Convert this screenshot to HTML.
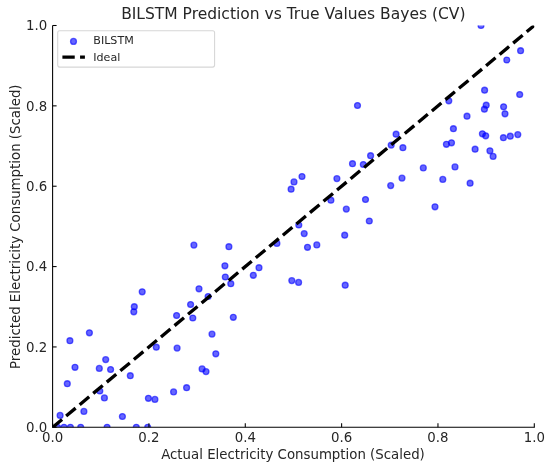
<!DOCTYPE html>
<html><head><meta charset="utf-8"><title>BILSTM Prediction vs True Values Bayes (CV)</title>
<style>
html,body{margin:0;padding:0;background:#fff;}
body{width:550px;height:466px;overflow:hidden;}
svg{display:block;}
text{font-family:"DejaVu Sans", "Liberation Sans", sans-serif;fill:#262626;}
</style></head><body>
<svg width="550" height="466" viewBox="0 0 550 466">
<defs><clipPath id="ax"><rect x="52.6" y="25.5" width="481.70" height="401.80"/></clipPath></defs>
<rect width="550" height="466" fill="#fff"/>

<g clip-path="url(#ax)" fill="rgba(0,0,255,0.6)" stroke="rgba(0,0,255,0.6)" stroke-width="1.3">
<circle cx="57.5" cy="427.3" r="2.95"/>
<circle cx="64.0" cy="427.3" r="2.95"/>
<circle cx="70.4" cy="427.3" r="2.95"/>
<circle cx="80.7" cy="427.3" r="2.95"/>
<circle cx="107.1" cy="427.3" r="2.95"/>
<circle cx="136.3" cy="427.3" r="2.95"/>
<circle cx="147.7" cy="427.3" r="2.95"/>
<circle cx="481.0" cy="25.5" r="2.95"/>
<circle cx="105.7" cy="359.6" r="2.95"/>
<circle cx="75.0" cy="367.3" r="2.95"/>
<circle cx="99.3" cy="368.4" r="2.95"/>
<circle cx="110.6" cy="369.5" r="2.95"/>
<circle cx="130.3" cy="375.7" r="2.95"/>
<circle cx="67.3" cy="383.7" r="2.95"/>
<circle cx="99.8" cy="391.0" r="2.95"/>
<circle cx="104.4" cy="397.9" r="2.95"/>
<circle cx="148.4" cy="398.3" r="2.95"/>
<circle cx="83.9" cy="411.4" r="2.95"/>
<circle cx="60.1" cy="415.4" r="2.95"/>
<circle cx="122.4" cy="416.5" r="2.95"/>
<circle cx="156.3" cy="347.2" r="2.95"/>
<circle cx="177.1" cy="348.1" r="2.95"/>
<circle cx="215.8" cy="353.8" r="2.95"/>
<circle cx="202.1" cy="368.9" r="2.95"/>
<circle cx="206.0" cy="371.6" r="2.95"/>
<circle cx="186.6" cy="387.7" r="2.95"/>
<circle cx="173.6" cy="391.9" r="2.95"/>
<circle cx="154.9" cy="399.4" r="2.95"/>
<circle cx="142.2" cy="291.8" r="2.95"/>
<circle cx="134.3" cy="306.7" r="2.95"/>
<circle cx="133.8" cy="311.8" r="2.95"/>
<circle cx="89.4" cy="332.8" r="2.95"/>
<circle cx="69.9" cy="340.7" r="2.95"/>
<circle cx="224.9" cy="265.8" r="2.95"/>
<circle cx="225.3" cy="277.0" r="2.95"/>
<circle cx="230.8" cy="283.7" r="2.95"/>
<circle cx="199.0" cy="288.8" r="2.95"/>
<circle cx="208.1" cy="296.5" r="2.95"/>
<circle cx="190.6" cy="304.5" r="2.95"/>
<circle cx="176.6" cy="315.5" r="2.95"/>
<circle cx="192.8" cy="318.0" r="2.95"/>
<circle cx="233.3" cy="317.3" r="2.95"/>
<circle cx="212.0" cy="334.1" r="2.95"/>
<circle cx="259.0" cy="267.7" r="2.95"/>
<circle cx="253.3" cy="275.3" r="2.95"/>
<circle cx="291.8" cy="280.6" r="2.95"/>
<circle cx="298.6" cy="282.4" r="2.95"/>
<circle cx="345.2" cy="285.2" r="2.95"/>
<circle cx="193.9" cy="245.1" r="2.95"/>
<circle cx="228.9" cy="246.7" r="2.95"/>
<circle cx="302.0" cy="176.5" r="2.95"/>
<circle cx="294.0" cy="181.9" r="2.95"/>
<circle cx="291.1" cy="189.2" r="2.95"/>
<circle cx="336.9" cy="178.6" r="2.95"/>
<circle cx="330.9" cy="200.2" r="2.95"/>
<circle cx="298.8" cy="225.0" r="2.95"/>
<circle cx="304.2" cy="233.6" r="2.95"/>
<circle cx="276.9" cy="243.4" r="2.95"/>
<circle cx="307.5" cy="247.3" r="2.95"/>
<circle cx="316.8" cy="244.9" r="2.95"/>
<circle cx="402.0" cy="178.1" r="2.95"/>
<circle cx="390.7" cy="185.6" r="2.95"/>
<circle cx="365.5" cy="199.5" r="2.95"/>
<circle cx="346.3" cy="209.1" r="2.95"/>
<circle cx="369.3" cy="221.0" r="2.95"/>
<circle cx="344.7" cy="235.2" r="2.95"/>
<circle cx="435.0" cy="206.8" r="2.95"/>
<circle cx="442.8" cy="179.4" r="2.95"/>
<circle cx="470.1" cy="183.2" r="2.95"/>
<circle cx="357.5" cy="105.5" r="2.95"/>
<circle cx="396.1" cy="134.2" r="2.95"/>
<circle cx="391.2" cy="145.1" r="2.95"/>
<circle cx="402.9" cy="147.7" r="2.95"/>
<circle cx="370.6" cy="155.7" r="2.95"/>
<circle cx="352.5" cy="163.7" r="2.95"/>
<circle cx="363.3" cy="164.5" r="2.95"/>
<circle cx="423.3" cy="167.9" r="2.95"/>
<circle cx="484.6" cy="90.2" r="2.95"/>
<circle cx="519.7" cy="94.5" r="2.95"/>
<circle cx="448.8" cy="100.8" r="2.95"/>
<circle cx="486.2" cy="105.2" r="2.95"/>
<circle cx="484.4" cy="109.2" r="2.95"/>
<circle cx="503.6" cy="106.8" r="2.95"/>
<circle cx="505.0" cy="113.8" r="2.95"/>
<circle cx="467.0" cy="116.2" r="2.95"/>
<circle cx="453.4" cy="128.7" r="2.95"/>
<circle cx="482.4" cy="133.8" r="2.95"/>
<circle cx="485.7" cy="135.8" r="2.95"/>
<circle cx="503.4" cy="137.7" r="2.95"/>
<circle cx="510.3" cy="136.2" r="2.95"/>
<circle cx="517.8" cy="134.6" r="2.95"/>
<circle cx="446.4" cy="144.3" r="2.95"/>
<circle cx="451.5" cy="142.8" r="2.95"/>
<circle cx="475.1" cy="149.2" r="2.95"/>
<circle cx="489.9" cy="150.8" r="2.95"/>
<circle cx="493.1" cy="156.4" r="2.95"/>
<circle cx="455.0" cy="166.9" r="2.95"/>
<circle cx="520.6" cy="50.7" r="2.95"/>
<circle cx="506.8" cy="60.0" r="2.95"/>
</g>
<g clip-path="url(#ax)"><line x1="52.6" y1="427.3" x2="534.3" y2="25.5" stroke="#000" stroke-width="3.33" stroke-dasharray="12.32 5.32"/></g>
<g stroke="#000" stroke-width="1.07" fill="none">
<line x1="52.6" y1="427.3" x2="534.8" y2="427.3"/>
<line x1="52.6" y1="427.8" x2="52.6" y2="25.5"/>
<line x1="52.60" y1="427.3" x2="52.60" y2="423.3"/>
<line x1="52.6" y1="427.30" x2="56.6" y2="427.30"/>
<line x1="148.94" y1="427.3" x2="148.94" y2="423.3"/>
<line x1="52.6" y1="346.94" x2="56.6" y2="346.94"/>
<line x1="245.28" y1="427.3" x2="245.28" y2="423.3"/>
<line x1="52.6" y1="266.58" x2="56.6" y2="266.58"/>
<line x1="341.62" y1="427.3" x2="341.62" y2="423.3"/>
<line x1="52.6" y1="186.22" x2="56.6" y2="186.22"/>
<line x1="437.96" y1="427.3" x2="437.96" y2="423.3"/>
<line x1="52.6" y1="105.86" x2="56.6" y2="105.86"/>
<line x1="534.30" y1="427.3" x2="534.30" y2="423.3"/>
<line x1="52.6" y1="25.50" x2="56.6" y2="25.50"/>
</g>
<g font-size="13.33">
<text x="52.60" y="441.6" text-anchor="middle">0.0</text>
<text x="47.2" y="432.10" text-anchor="end">0.0</text>
<text x="148.94" y="441.6" text-anchor="middle">0.2</text>
<text x="47.2" y="351.74" text-anchor="end">0.2</text>
<text x="245.28" y="441.6" text-anchor="middle">0.4</text>
<text x="47.2" y="271.38" text-anchor="end">0.4</text>
<text x="341.62" y="441.6" text-anchor="middle">0.6</text>
<text x="47.2" y="191.02" text-anchor="end">0.6</text>
<text x="437.96" y="441.6" text-anchor="middle">0.8</text>
<text x="47.2" y="110.66" text-anchor="end">0.8</text>
<text x="534.30" y="441.6" text-anchor="middle">1.0</text>
<text x="47.2" y="30.30" text-anchor="end">1.0</text>
</g>
<text x="293.3" y="18.8" font-size="15.5" text-anchor="middle">BILSTM Prediction vs True Values Bayes (CV)</text>
<text x="293.0" y="458.6" font-size="13.33" text-anchor="middle">Actual Electricity Consumption (Scaled)</text>
<text transform="translate(19.7,226.7) rotate(-90)" x="0" y="0" font-size="13.33" text-anchor="middle">Predicted Electricity Consumption (Scaled)</text>
<rect x="57.7" y="30.8" width="156.9" height="36.3" rx="2" ry="2" fill="#fff" fill-opacity="0.8" stroke="#cccccc" stroke-opacity="0.8" stroke-width="1.07"/>
<circle cx="73.5" cy="41.4" r="2.95" fill="rgba(0,0,255,0.6)" stroke="rgba(0,0,255,0.6)" stroke-width="1.3"/>
<line x1="62.4" y1="57.2" x2="84.9" y2="57.2" stroke="#000" stroke-width="3.33" stroke-dasharray="12.33 5.33"/>
<g font-size="11.1"><text x="93.3" y="44.0">BILSTM</text><text x="93.3" y="60.8">Ideal</text></g>
</svg></body></html>
